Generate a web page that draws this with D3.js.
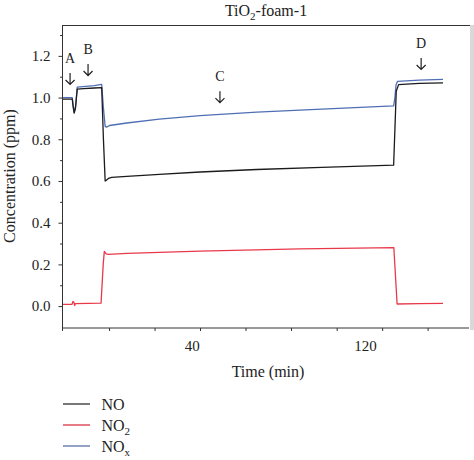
<!DOCTYPE html>
<html>
<head>
<meta charset="utf-8">
<script src="https://cdn.jsdelivr.net/npm/d3@7"></script>
<style>
  body { margin: 0; background: #fff; }
  text { font-family: "Liberation Serif", "DejaVu Serif", serif; fill: #222; }
</style>
</head>
<body>
<div id="chart"></div>
<script>
// time in minutes relative to lamp on, concentration in ppm
var noTime = [-19.7, -15.2, -14.7, -14.3, -13.7, -12.9, -10, -5, -1.6, -0.8, 0, 0.5, 1.5, 3, 10, 25, 43.8, 70, 100, 133.2, 133.8, 134.4, 135.5, 145, 156];
var noValue = [0.993, 0.993, 0.95, 0.925, 0.95, 1.040, 1.043, 1.046, 1.048, 0.8, 0.600, 0.603, 0.612, 0.617, 0.622, 0.632, 0.643, 0.655, 0.665, 0.676, 0.85, 1.03, 1.062, 1.068, 1.070];

var no2Time = [-19.7, -15.3, -14.9, -14.4, -14.1, -13.7, -1.9, -0.9, -0.4, 0.5, 1.5, 10, 43.8, 90, 133.3, 134.8, 145, 156];
var no2Value = [0.008, 0.008, 0.022, 0.018, 0.003, 0.012, 0.014, 0.2, 0.262, 0.25, 0.248, 0.253, 0.264, 0.274, 0.280, 0.01, 0.012, 0.013];

var noxTime = [-19.7, -15.2, -14.7, -14.3, -13.7, -12.9, -5, -1.6, -0.8, 0, 0.6, 2, 10, 25, 43.8, 70, 100, 133.2, 133.8, 134.3, 135, 145, 156];
var noxValue = [1.0, 1.0, 0.955, 0.93, 0.955, 1.05, 1.057, 1.063, 0.95, 0.862, 0.858, 0.866, 0.878, 0.897, 0.913, 0.93, 0.945, 0.960, 1.0, 1.06, 1.078, 1.084, 1.087];

var seriesNames = ["NO", "NO2", "NOx"];
var xTickLabels = [40, 120];
var xTickMarks = [1.8, 22.8, 43.8, 64.8, 85.8, 106.9, 127.9, 148.9];
var yTickLabels = [0.0, 0.2, 0.4, 0.6, 0.8, 1.0, 1.2];
var yMinorTicks = [0.1, 0.3, 0.5, 0.7, 0.9, 1.1, 1.3];

var markLetters = ["A", "B", "C", "D"];
var markTime = [-16.2, -7.9, 53, 145.9];
var markValue = [1.089, 1.132, 1.002, 1.161];

var colors = ["#1b1b1b", "#e8394a", "#4f6fb4"];
var legendColors = ["#4a4a4a", "#e0505e", "#6f82b2"];

var width = 474, height = 460;
var svg = d3.select("#chart").append("svg")
    .attr("width", width)
    .attr("height", height);

// scales
var x = d3.scaleLinear().domain([-19.7, 168]).range([62.5, 469]);
var y = d3.scaleLinear().domain([-0.105, 1.348]).range([328, 25]);

// frame top + right edge
svg.append("line")
    .attr("x1", 62.5).attr("x2", 474)
    .attr("y1", 25.5).attr("y2", 25.5)
    .attr("stroke", "#333").attr("stroke-width", 1);
svg.append("rect")
    .attr("x", 470).attr("y", 25)
    .attr("width", 4).attr("height", 305)
    .attr("fill", "#d9d9d9");

// series lines
var line = d3.line()
    .x(function(d) { return x(d[0]); })
    .y(function(d) { return y(d[1]); });

var series = [
  d3.zip(noTime, noValue),
  d3.zip(no2Time, no2Value),
  d3.zip(noxTime, noxValue)
];

// draw NOx first so NO sits on top near the plateaus
[2, 1, 0].forEach(function(i) {
  svg.append("path")
      .datum(series[i])
      .attr("fill", "none")
      .attr("stroke", colors[i])
      .attr("stroke-width", 1.3)
      .attr("stroke-linejoin", "round")
      .attr("d", line);
});

// y axis
svg.append("g")
    .attr("transform", "translate(62.5,0)")
    .call(d3.axisLeft(y).tickValues(yTickLabels).tickSize(4).tickPadding(8)
      .tickFormat(d3.format(".1f")))
    .call(function(g) {
      g.select(".domain").attr("d", "M0,25V331").attr("stroke", "#333");
      g.selectAll(".tick line").attr("stroke", "#333");
      g.selectAll(".tick text").style("font-size", "15px")
        .attr("fill", "#222").attr("font-family", null);
    });
svg.append("g")
    .attr("transform", "translate(62.5,0)")
    .call(d3.axisLeft(y).tickValues(yMinorTicks).tickSize(2.5).tickFormat(""))
    .call(function(g) {
      g.select(".domain").remove();
      g.selectAll(".tick line").attr("stroke", "#333");
    });

// x axis: tick marks
svg.append("g")
    .attr("transform", "translate(0,328)")
    .call(d3.axisBottom(x).tickValues(xTickMarks).tickSize(3).tickFormat(""))
    .call(function(g) {
      g.select(".domain").attr("d", "M62.5,0H469").attr("stroke", "#333");
      g.selectAll(".tick line").attr("stroke", "#333");
    });
// x axis: labels
svg.append("g")
    .attr("transform", "translate(0,328)")
    .call(d3.axisBottom(x).tickValues(xTickLabels).tickSize(0).tickPadding(12))
    .call(function(g) {
      g.select(".domain").remove();
      g.selectAll(".tick text").style("font-size", "15px")
        .attr("fill", "#222").attr("font-family", null);
    });

// title
var title = svg.append("text")
    .attr("x", 266).attr("y", 16)
    .attr("text-anchor", "middle")
    .style("font-size", "16px");
title.append("tspan").text("TiO");
title.append("tspan").attr("dy", 4).style("font-size", "11px").text("2");
title.append("tspan").attr("dy", -4).text("-foam-1");

// axis titles
svg.append("text")
    .attr("x", 268).attr("y", 377)
    .attr("text-anchor", "middle")
    .style("font-size", "16px")
    .text("Time (min)");

svg.append("text")
    .attr("transform", "translate(15,176) rotate(-90)")
    .attr("text-anchor", "middle")
    .style("font-size", "16px")
    .text("Concentration (ppm)");

// A-D markers
markLetters.forEach(function(m, i) {
  var cx = x(markTime[i]), cy = y(markValue[i]);
  svg.append("path")
      .attr("d", "M" + cx + "," + (cy - 6) + "V" + (cy + 5.5) +
                 "M" + (cx - 4.5) + "," + (cy + 1) + "L" + cx + "," + (cy + 5.5) + "L" + (cx + 4.5) + "," + (cy + 1))
      .attr("fill", "none")
      .attr("stroke", "#222")
      .attr("stroke-width", 1.2);
  svg.append("text")
      .attr("x", cx).attr("y", cy - 16)
      .attr("text-anchor", "middle")
      .style("font-size", "14px")
      .text(m);
});

// legend
var legendY = [404, 425, 446];
seriesNames.forEach(function(name, i) {
  svg.append("line")
      .attr("x1", 63).attr("x2", 90)
      .attr("y1", legendY[i]).attr("y2", legendY[i])
      .attr("stroke", legendColors[i])
      .attr("stroke-width", 1.5);
  var t = svg.append("text")
      .attr("x", 101.5).attr("y", legendY[i] + 5.5)
      .style("font-size", "16px");
  t.append("tspan").text("NO");
  if (name.length > 2) {
    t.append("tspan").attr("dy", 4).style("font-size", "11px").text(name.slice(2));
  }
});
</script>
</body>
</html>
